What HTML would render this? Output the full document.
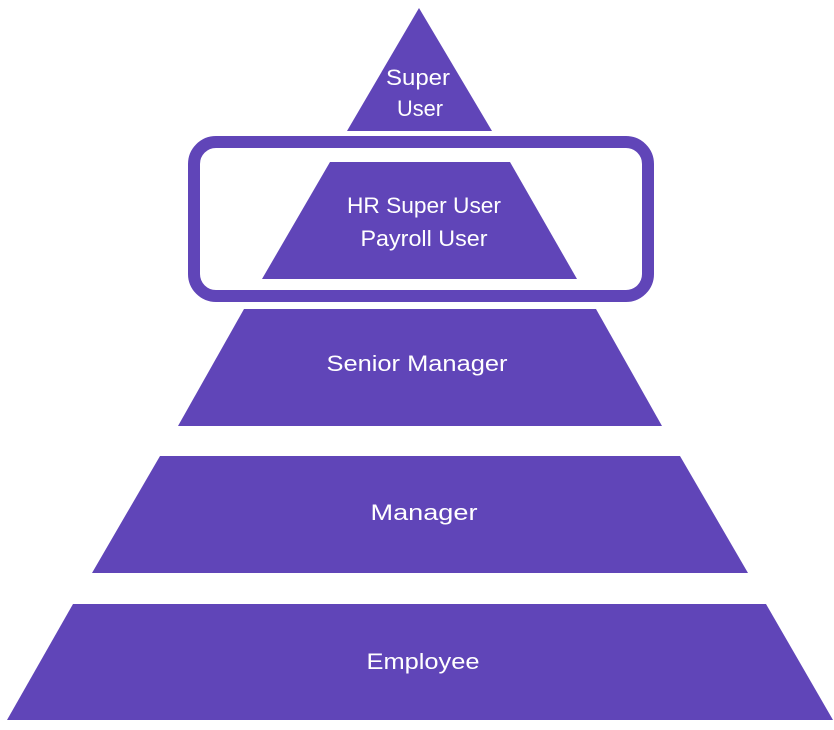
<!DOCTYPE html>
<html><head><meta charset="utf-8"><style>html,body{margin:0;padding:0;background:#fff}svg{display:block}</style></head>
<body>
<svg width="834" height="730" viewBox="0 0 834 730" xmlns="http://www.w3.org/2000/svg">
<g fill="#6045b8">
<polygon points="419,8 492,131 347,131"/>
<polygon points="330,162 510,162 577,279 262,279"/>
<polygon points="244,309 596,309 662,426 178,426"/>
<polygon points="160,456 680,456 748,573 92,573"/>
<polygon points="73,604 766,604 833,720 7,720"/>
</g>
<rect x="194" y="142" width="454" height="154" rx="22" fill="none" stroke="#6045b8" stroke-width="12"/>
<g fill="#fff" font-family="'Liberation Sans',sans-serif" font-size="22" text-anchor="middle" lengthAdjust="spacingAndGlyphs">
<text x="418" y="85" textLength="64" lengthAdjust="spacingAndGlyphs">Super</text>
<text x="420" y="116" textLength="46" lengthAdjust="spacingAndGlyphs">User</text>
<text x="424" y="213" textLength="154" lengthAdjust="spacingAndGlyphs">HR Super User</text>
<text x="424" y="246" textLength="127" lengthAdjust="spacingAndGlyphs">Payroll User</text>
<text x="417" y="371" textLength="181" lengthAdjust="spacingAndGlyphs">Senior Manager</text>
<text x="424" y="520" textLength="107" lengthAdjust="spacingAndGlyphs">Manager</text>
<text x="423" y="669" textLength="113" lengthAdjust="spacingAndGlyphs">Employee</text>
</g>
</svg>
</body></html>
